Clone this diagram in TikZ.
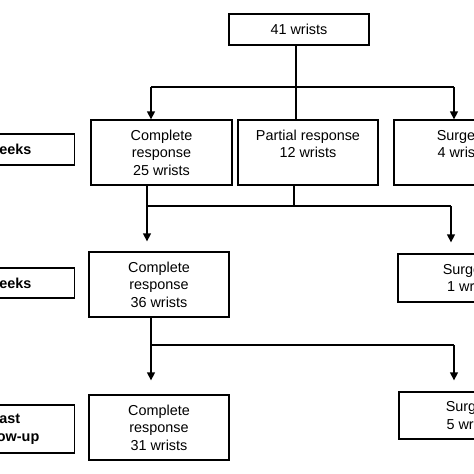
\documentclass[tikz,border=0pt]{standalone}
\usepackage{fontspec}
\setmainfont{Liberation Sans}
\usetikzlibrary{arrows.meta}
\begin{document}
\begin{tikzpicture}[x=1pt,y=-1pt,
  box/.style={draw, line width=1.3pt, align=center, inner sep=0pt,
    font=\fontsize{14.4}{17.5}\selectfont},
  sidebox/.style={draw, line width=1.3pt, align=left, inner ysep=0pt, inner xsep=6pt,
    text width=93pt, anchor=east, font=\bfseries\fontsize{14.4}{17.5}\selectfont},
  link/.style={line width=1.3pt},
  arr/.style={line width=1.3pt, -{Triangle[width=8pt,length=8pt]}}]
\useasboundingbox (0,0) rectangle (474,474);
\clip (0,0) rectangle (474,474);
% main boxes
\node[box, minimum width=140pt, minimum height=31pt] (top) at (299,29.5) {41 wrists};
\node[box, minimum width=141pt, minimum height=65pt] (r1a) at (161.5,152.5) {Complete\\response\\25 wrists};
\node[box, minimum width=140pt, minimum height=65pt] (r1b) at (308,152.5) {Partial response\\12 wrists\\\mbox{}};
\node[box, minimum width=136pt, minimum height=65pt] (r1c) at (462,152.5) {Surgery\\4 wrists\\\mbox{}};
\node[box, minimum width=140pt, minimum height=65pt] (r2a) at (159,284.5) {Complete\\response\\36 wrists};
\node[box, minimum width=140pt, minimum height=48pt] (r2c) at (468,278) {Surgery\\1 wrist};
\node[box, minimum width=140pt, minimum height=65pt] (r3a) at (159,427.5) {Complete\\response\\31 wrists};
\node[box, minimum width=144pt, minimum height=47pt] (r3c) at (471,415.5) {Surgery\\5 wrists};
% side boxes
\node[sidebox, minimum height=31pt] (L1) at (75,149.5) {6 weeks};
\node[sidebox, minimum height=30pt] (L2) at (75,283) {6 weeks};
\node[sidebox, minimum height=48pt] (L3) at (75,429) {At last\\follow-up};
% junctions
\coordinate (j1) at (296,87);
\coordinate (j1l) at (151,87);
\coordinate (j1r) at (454,87);
\coordinate (j2) at (294,206);
\coordinate (j2l) at (147,206);
\coordinate (j2r) at (451,206);
\coordinate (j3l) at (151,345);
\coordinate (j3r) at (454,345);
% level 1
\draw[link] (top.south -| j1) -- (r1b.north -| j1);
\draw[link] (j1l) -- (j1r);
\draw[arr] (j1l) -- (r1a.north -| j1l);
\draw[arr] (j1r) -- (r1c.north -| j1r);
% level 2
\draw[link] (r1a.south -| j2l) -- (j2l);
\draw[link] (r1b.south -| j2) -- (j2);
\draw[link] (j2l) -- (j2r);
\draw[arr, shorten >=10pt] (j2l) -- (r2a.north -| j2l);
\draw[arr, shorten >=11pt] (j2r) -- (r2c.north -| j2r);
% level 3
\draw[link] (r2a.south -| j3l) -- (j3l);
\draw[link] (j3l) -- (j3r);
\draw[arr, shorten >=14pt] (j3l) -- (r3a.north -| j3l);
\draw[arr, shorten >=11pt] (j3r) -- (r3c.north -| j3r);
\end{tikzpicture}
\end{document}
